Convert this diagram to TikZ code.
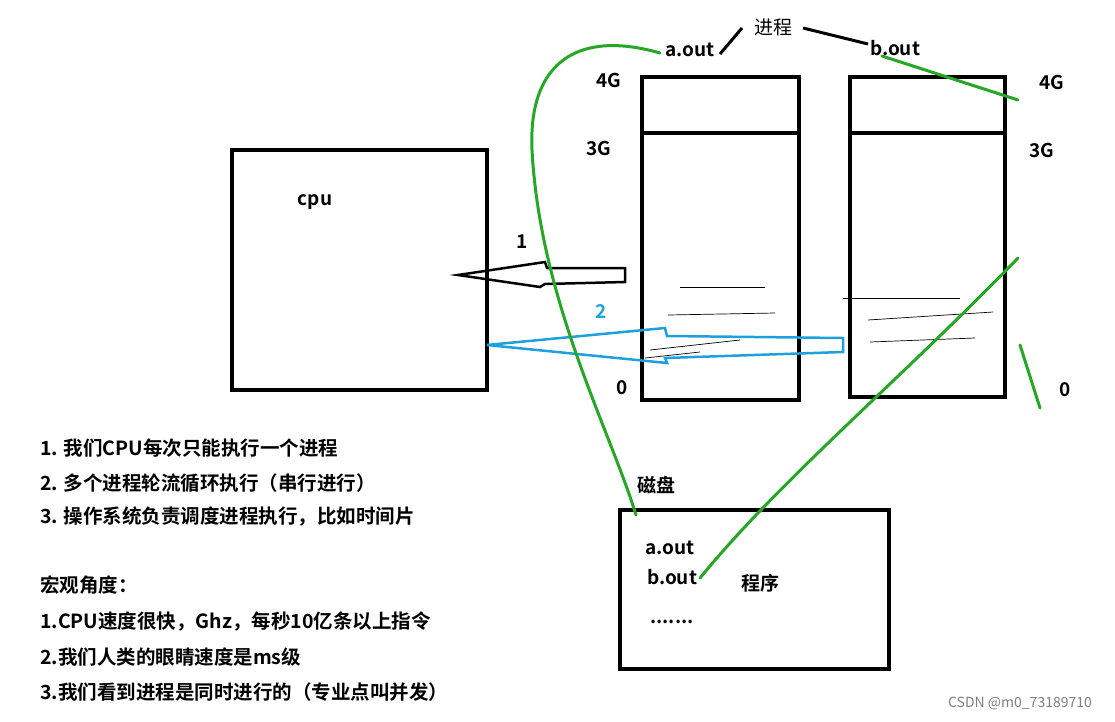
\documentclass[tikz,border=0pt]{standalone}
\usepackage{fontspec}
\setmainfont{Noto Sans CJK SC}[BoldFont={Noto Sans CJK SC Bold}]
\begin{document}
\begin{tikzpicture}[x=1pt,y=-1pt,
  box/.style={draw=black,line width=3.5pt},
  lbl/.style={font=\bfseries\fontsize{19}{21}\selectfont,inner sep=0pt},
  txt/.style={font=\bfseries\fontsize{19.5}{21}\selectfont,inner sep=0pt,anchor=west},
  gr/.style={draw=green!60!black!85,line width=3pt,line cap=round},
  sk/.style={draw=black,line width=0.7pt}]
\useasboundingbox[fill=white] (0,0) rectangle (1115,721);
% cpu
\node[box,minimum width=255pt,minimum height=240pt,anchor=north west] (cpu) at (230,148) {};
\node[lbl] (cpul) at (315,202) {cpu};
% process boxes
\node[box,minimum width=157pt,minimum height=323pt,anchor=north west] (pa) at (640,75) {};
\node[box,minimum width=155pt,minimum height=320pt,anchor=north west] (pb) at (848,75) {};
\draw[line width=3.5pt] (640,133) -- (797,133);
\draw[line width=3.5pt] (848,133) -- (1003,133);
\node[lbl] at (609,80) {4G};
\node[lbl] at (599,148) {3G};
\node[lbl] at (622,388) {0};
\node[lbl] at (1052,82) {4G};
\node[lbl] at (1042,150) {3G};
\node[lbl] at (1065,390) {0};
\node[lbl,font=\fontsize{19}{21}\selectfont] (jc) at (773,27) {进程};
\node[lbl] (ao) at (690,50) {a.out};
\node[lbl] (bo) at (895,48) {b.out};
\draw[line width=3pt] (720,54) -- (742,28);
\draw[line width=3pt] (803,28) -- (868,44);
% arrow 1
\draw[line width=2.5pt,line join=miter] (625,268) -- (625,282) -- (545,284) -- (540,287) -- (458,275) -- (545,262) -- (547,268) -- cycle;
\node[lbl] at (522,242) {1};
% arrow 2
\draw[draw={rgb,255:red,30;green,160;blue,220},line width=2.5pt] (843,338) -- (843,352) -- (665,358) -- (667,363) -- (487,345) -- (665,328) -- (667,336) -- cycle;
\node[lbl,text={rgb,255:red,30;green,160;blue,220}] at (601,312) {2};
% sketches
\draw[sk] (680,287) -- (765,287);
\draw[sk] (668,315) -- (775,313);
\draw[sk] (650,350) -- (740,340);
\draw[sk] (645,358) -- (700,352);
\draw[sk] (843,298) -- (960,298);
\draw[sk] (868,320) -- (993,312);
\draw[sk] (870,342) -- (975,338);
% disk
\node[box,minimum width=269pt,minimum height=159pt,anchor=north west] (disk) at (618,508) {};
\node[lbl] at (656,485) {磁盘};
\node[lbl] at (670,548) {a.out};
\node[lbl] at (672,577) {b.out};
\node[lbl] at (760,583) {程序};
\node[lbl] at (672,622) {.......};
% green
\draw[gr] (660,53) .. controls (580,30) and (528,60) .. (532,150) .. controls (540,300) and (610,430) .. (636,515);
\draw[gr] (882,56) -- (1018,100);
\draw[gr] (1018,258) .. controls (900,380) and (780,480) .. (700,578);
\draw[gr] (1020,345) -- (1040,408);
% text
\node[txt] at (40,448) {1. 我们CPU每次只能执行一个进程};
\node[txt] at (40,483) {2. 多个进程轮流循环执行（串行进行）};
\node[txt] at (40,516) {3. 操作系统负责调度进程执行，比如时间片};
\node[txt] at (40,585) {宏观角度：};
\node[txt] at (40,621) {1.CPU速度很快，Ghz，每秒10亿条以上指令};
\node[txt] at (40,657) {2.我们人类的眼睛速度是ms级};
\node[txt] at (40,692) {3.我们看到进程是同时进行的（专业点叫并发）};
\node[font=\fontsize{14}{16}\selectfont,text=gray,inner sep=0pt] at (1020,703) {CSDN @m0\_73189710};
\end{tikzpicture}
\end{document}
